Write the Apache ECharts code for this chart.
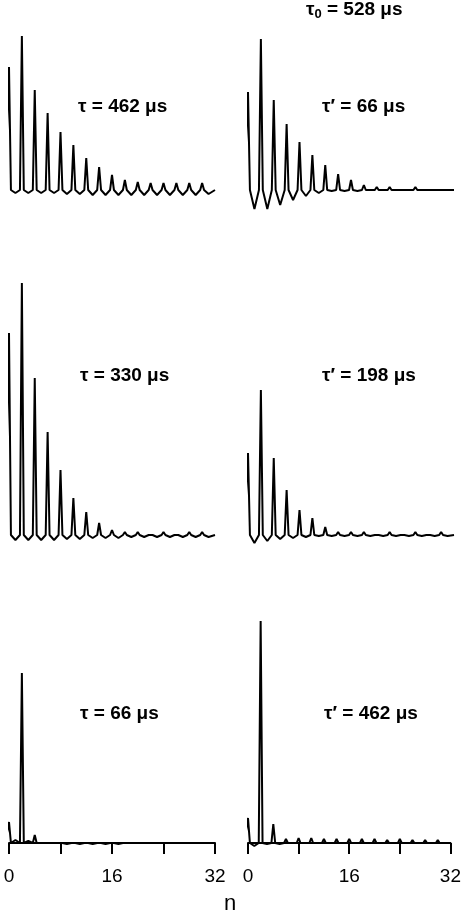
<!DOCTYPE html>
<html><head><meta charset="utf-8">
<script src="https://cdn.jsdelivr.net/npm/echarts@6/dist/echarts.min.js"></script>
<style>html,body{margin:0;background:#fff}#main{width:464px;height:920px}</style>
</head><body><div id="main"></div>
<script>
// peak heights at n = 0,2,4,...,30 and trough values at n = 1,3,5,...,31
var peaks1 = [123,154,100,77,58,45,32,23,15,10,8,7,7,7,7,7];
var troughs1 = [-3,-3,-3,-3,-4,-4,-5,-5,-5,-5,-5,-5,-5,-5,-5,-4];
var peaks2 = [98,151,90,66,48,35,25,16,10,5,3,3,2,3,2,2];
var troughs2 = [-19,-19,-15,-10,-6,-3,-1,-1,-1,0,0,0,0,0,0,0];
var peaks3 = [202,252,157,103,65,37,23,12,5,3,3,2,3,2,3,3];
var troughs3 = [-5,-5,-5,-5,-4,-4,-3,-3,-3,-2,-2,-2,-2,-2,-2,-2];
var peaks4 = [82,145,77,45,25,17,8,3,3,3,2,3,2,3,2,3];
var troughs4 = [-8,-6,-4,-3,-2,-1,-1,-1,-1,-1,-1,-1,-1,-1,-1,-1];
var peaks5 = [21,170,8,2,1,1,1,1,0,0,0,0,0,0,0,0];
var troughs5 = [3,2,0,0,-1,-1,-1,-1,-1,0,0,0,0,0,0,0];
var peaks6 = [25,222,19,4,5,5,4,4,4,4,4,3,4,3,3,3];
var troughs6 = [-3,-1,-1,0,0,0,0,0,0,0,0,0,0,0,0,0];
var tickLabels = ['0','16','32'];
var labels = ['\u03c4 = 462 \u03bcs','\u03c4\u2032 = 66 \u03bcs','\u03c4 = 330 \u03bcs','\u03c4\u2032 = 198 \u03bcs','\u03c4 = 66 \u03bcs','\u03c4\u2032 = 462 \u03bcs'];

function trace(p, t) {
  var d = [[-0.6, 0]];
  for (var k = 0; k < p.length; k++) {
    d.push([2*k-0.3, 0], [2*k, p[k]], [2*k+0.3, 0], [2*k+1, t[k]]);
  }
  d.push([32, 0]);
  return d;
}

var myChart = echarts.init(document.getElementById('main'));
var panels = [
  {p: peaks1, t: troughs1, left: 9, top: 30, h: 185, min: -25, max: 160},
  {p: peaks2, t: troughs2, left: 248, top: 30, h: 185, min: -25, max: 160},
  {p: peaks3, t: troughs3, left: 9, top: 275, h: 285, min: -25, max: 260},
  {p: peaks4, t: troughs4, left: 248, top: 275, h: 285, min: -25, max: 260},
  {p: peaks5, t: troughs5, left: 9, top: 613, h: 241, min: -11, max: 230},
  {p: peaks6, t: troughs6, left: 248, top: 613, h: 241, min: -11, max: 230}
];
var grids = [], xAxes = [], yAxes = [], series = [];
panels.forEach(function (pn, i) {
  var bottomRow = i >= 4;
  grids.push({left: pn.left, top: pn.top, width: 206, height: pn.h});
  xAxes.push({
    type: 'value', gridIndex: i, min: 0, max: 32, interval: 8,
    show: bottomRow,
    axisLine: {lineStyle: {color: '#000', width: 2}},
    axisTick: {inside: false, length: 11, lineStyle: {color: '#000', width: 2}},
    axisLabel: {color: '#000', fontSize: 19, fontFamily: 'Liberation Sans', margin: 13,
      formatter: function (v) { return tickLabels.indexOf(String(v)) >= 0 ? String(v) : ''; }},
    splitLine: {show: false}
  });
  yAxes.push({type: 'value', gridIndex: i, min: pn.min, max: pn.max, show: false});
  series.push({
    type: 'line', xAxisIndex: i, yAxisIndex: i, data: trace(pn.p, pn.t), clip: false,
    showSymbol: false, lineStyle: {color: '#000', width: 2}, silent: true
  });
});

var txt = function (x, y, s) {
  return {type: 'text', left: x, top: y, style: {text: s, fill: '#000',
    font: 'bold 19px "Liberation Sans", sans-serif'}};
};
var labelPos = [[78, 97], [322, 97], [80, 366], [322, 366], [80, 704], [324, 704]];
var graphic = labels.map(function (s, i) { return txt(labelPos[i][0], labelPos[i][1], s); });
graphic.push({type: 'text', left: 306, top: 0, style: {
  text: '{a|\u03c4}{s|0}{a| = 528 \u03bcs}', rich: {
    a: {fontSize: 19, fontWeight: 'bold', fontFamily: 'Liberation Sans', fill: '#000'},
    s: {fontSize: 13, fontWeight: 'bold', fontFamily: 'Liberation Sans', fill: '#000', padding: [10, 0, 0, 0]}}}});
graphic.push({type: 'text', left: 224, top: 893, style: {text: 'n', fill: '#000', font: '22px "Liberation Sans", sans-serif'}});

myChart.setOption({
  animation: false,
  grid: grids, xAxis: xAxes, yAxis: yAxes, series: series, graphic: graphic
});
</script></body></html>
